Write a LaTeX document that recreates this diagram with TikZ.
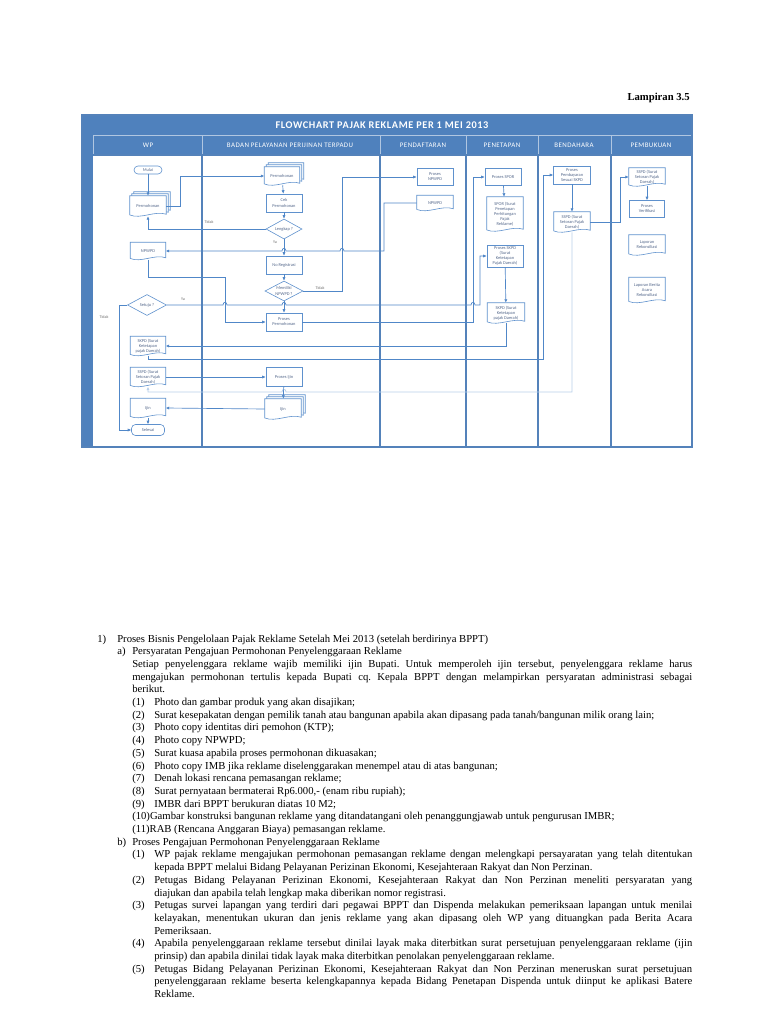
\documentclass[tikz,border=0pt]{standalone}
\usepackage{fontspec}
\setmainfont{Liberation Serif}
\newfontfamily\calf{Carlito}
\newfontfamily\calsp[LetterSpace=6]{Carlito}
\usetikzlibrary{shapes.geometric,arrows.meta,calc}
\pgfdeclarelayer{lanes}
\pgfdeclarelayer{shapesbg}
\pgfsetlayers{lanes,shapesbg,main}
\frenchspacing
\definecolor{hdr}{RGB}{79,129,189}
\definecolor{laneln}{RGB}{84,130,186}
\definecolor{bx}{RGB}{95,145,205}
\definecolor{cn}{RGB}{80,135,200}
\definecolor{ftxt}{RGB}{85,105,140}
\definecolor{lite}{RGB}{185,208,235}
\newcommand\docshape[3]{%
 \draw[shp] ($(#1.north west)+(#2,#3)$) -- ($(#1.north east)+(#2,#3)$)
 -- ($(#1.south east)+(#2,#3+1.5pt)$)
 .. controls ($(#1.south west)!0.7!(#1.south east)+(#2,#3+4.5pt)$)
 and ($(#1.south west)!0.3!(#1.south east)+(#2,#3-2.5pt)$)
 .. ($(#1.south west)+(#2,#3+1pt)$) -- cycle;}
\newcommand\docout[1]{\begin{pgfonlayer}{shapesbg}\docshape{#1}{0pt}{0pt}\end{pgfonlayer}}
\newcommand\multidocout[1]{\begin{pgfonlayer}{shapesbg}\docshape{#1}{3pt}{3pt}\docshape{#1}{1.5pt}{1.5pt}\docshape{#1}{0pt}{0pt}\end{pgfonlayer}}
\tikzset{
 shp/.style={draw=bx, line width=0.45pt, fill=white},
 fc/.style={font=\calf\fontsize{3.3}{3.8}\selectfont, text=ftxt, align=center, inner sep=0.5pt},
 proc/.style 2 args={fc, draw=bx, line width=0.45pt, fill=white, rectangle, minimum width=#1*0.75pt, minimum height=#2*0.75pt},
 docn/.style 2 args={fc, rectangle, minimum width=#1*0.75pt, minimum height=#2*0.75pt},
 dia/.style 2 args={fc, draw=bx, line width=0.45pt, fill=white, diamond, aspect=2, inner sep=0pt, minimum width=#1*0.75pt, minimum height=#2*0.75pt},
 term/.style 2 args={fc, draw=bx, line width=0.45pt, fill=white, rectangle, rounded corners=3pt, minimum width=#1*0.75pt, minimum height=#2*0.75pt},
 arr/.style={draw=cn, line width=0.5pt, -{Latex[length=2.6pt,width=2.4pt]}},
 larr/.style={draw=lite, line width=0.6pt, -{Latex[length=2.6pt,width=2.4pt]}},
 lbl/.style={font=\calf\fontsize{3.1}{3.3}\selectfont, text=black!55, inner sep=0},
 lane/.style={draw=laneln, line width=0.8pt},
 hd/.style={font=\calsp\fontsize{5.2}{5.5}\selectfont, text=white, inner sep=0},
 bl/.style={anchor=base west, inner sep=0, font=\fontsize{8}{9.5}\selectfont},
}
\begin{document}
\begin{tikzpicture}[x=0.75pt,y=-0.75pt]
\useasboundingbox (0,0) rectangle (768,1024);
% ---------- swimlane frame ----------
\begin{pgfonlayer}{lanes}
\fill[white] (0,0) rectangle (768,1024);
\fill[hdr] (82,115) rectangle (692,155);
\fill[hdr] (82,155) rectangle (93,447);
\draw[white!55!hdr, line width=0.4pt] (93,135) -- (692,135);
\foreach \x in {93,202,380,466,538,611}{\draw[white!55!hdr, line width=0.4pt] (\x,135) -- (\x,155);}
\foreach \x in {202,380,466,538,611}{\draw[lane] (\x,155) -- (\x,447);}
\draw[lane] (93,155) -- (692,155);
\draw[lane] (82,115) rectangle (692,447);
\end{pgfonlayer}
\node[font=\calsp\bfseries\fontsize{7.7}{8}\selectfont, text=white, inner sep=0] (title) at (382,125) {FLOWCHART PAJAK REKLAME PER 1 MEI 2013};
\node[hd] (hWP) at (148,145) {WP};
\node[hd] (hBP) at (290,145) {BADAN PELAYANAN PERIJINAN TERPADU};
\node[hd] (hPD) at (423,145) {PENDAFTARAN};
\node[hd] (hPT) at (502,145) {PENETAPAN};
\node[hd] (hBD) at (574,145) {BENDAHARA};
\node[hd] (hPB) at (651,145) {PEMBUKUAN};
% ---------- WP lane ----------
\node[term={28}{8}] (mulai) at (148,170) {Mulai};
\node[docn={36}{20}] (wpPerm) at (148,206) {Permohonan}; \multidocout{wpPerm}
\node[docn={35}{17}] (wpNpwpd) at (148,251) {NPWPD}; \docout{wpNpwpd}
\node[dia={39}{21}] (setuju) at (147,305) {Setuju ?};
\node[docn={35}{19}] (wpSkpd) at (148,346) {SKPD (Surat\\Ketetapan\\pajak Daerah)}; \docout{wpSkpd}
\node[docn={35}{19}] (wpSspd) at (148,377) {SSPD (Surat\\Setoran Pajak\\Daerah)}; \docout{wpSspd}
\node[docn={35}{19}] (wpIjin) at (148,408) {Ijin}; \docout{wpIjin}
\node[term={33}{11}] (selesai) at (148,430) {Selesai};
% ---------- BPPT lane ----------
\node[docn={35}{18}] (bpPerm) at (282,176) {Permohonan}; \multidocout{bpPerm}
\node[proc={36}{18}] (cek) at (284,203) {Cek\\Permohonan};
\node[dia={36}{20}] (lengkap) at (284,229) {Lengkap ?};
\node[proc={36}{18}] (noreg) at (284,265) {No Registrasi};
\node[dia={38}{20}] (memiliki) at (284,291) {Memiliki\\NPWPD ?};
\node[proc={36}{18}] (prosPerm) at (284,322) {Proses\\Permohonan};
\node[proc={36}{19}] (prosIjin) at (284,377) {Proses Ijin};
\node[docn={36}{20}] (bpIjin) at (283,409) {Ijin}; \multidocout{bpIjin}
% ---------- PENDAFTARAN ----------
\node[proc={36}{17}] (prosNpwpd) at (435,177) {Proses\\NPWPD};
\node[docn={36}{15}] (npwpd) at (435,203) {NPWPD}; \docout{npwpd}
% ---------- PENETAPAN ----------
\node[proc={36}{17}] (prosSpor) at (503,177) {Proses SPOR};
\node[docn={36}{34}] (spor) at (505,214) {SPOR (Surat\\Penetapan\\Perhitungan\\Pajak\\Reklame)}; \docout{spor}
\node[proc={36}{22}] (prosSkpd) at (505,256) {Proses SKPD\\(Surat\\Ketetapan\\Pajak Daerah)};
\node[docn={37}{20}] (skpd) at (506,313) {SKPD (Surat\\Ketetapan\\pajak Daerah)}; \docout{skpd}
% ---------- BENDAHARA ----------
\node[proc={37}{18}] (prosBayar) at (572,175) {Proses\\Pembayaran\\Sesuai SKPD};
\node[docn={36}{20}] (bdSspd) at (572,222) {SSPD (Surat\\Setoran Pajak\\Daerah)}; \docout{bdSspd}
% ---------- PEMBUKUAN ----------
\node[docn={36}{18}] (pbSspd) at (647,177) {SSPD (Surat\\Setoran Pajak\\Daerah)}; \docout{pbSspd}
\node[proc={35}{17}] (verif) at (647,209) {Proses\\Verifikasi};
\node[docn={36}{20}] (lapRek) at (647,245) {Laporan\\Rekonsiliasi}; \docout{lapRek}
\node[docn={36}{25}] (lapBA) at (647,290) {Laporan Berita\\Acara\\Rekonsiliasi}; \docout{lapBA}
% ---------- connectors ----------
\draw[arr] (mulai) -- (wpPerm);
\draw[arr] (wpPerm.east) -- (180,206) |- (bpPerm.west);
\draw[arr] (bpPerm) -- (cek);
\draw[arr] (cek) -- (lengkap);
\draw[arr] (lengkap.west) -| (wpPerm.south);
\draw[arr] (lengkap) -- (noreg);
\draw[arr] (npwpd.west) -- (384,203) -- (384,251) -- (344,251) .. controls (344,247.5) and (340,247.5) .. (340,251) -- (286,251) .. controls (286,247.5) and (282,247.5) .. (282,251) -- (wpNpwpd.east);
\draw[arr] (noreg) -- (memiliki);
\draw[arr] (memiliki.east) -- (342,291) |- (prosNpwpd.west);
\draw[arr] (memiliki) -- (prosPerm);
\draw[arr] (setuju.east) -- (223,305) .. controls (223,301.5) and (227,301.5) .. (227,305) -- (282,305) .. controls (282,301.5) and (286,301.5) .. (286,305) -- (471,305) .. controls (471,301.5) and (475,301.5) .. (475,305) -- (480,305) |- (prosSkpd.west);
\draw[arr] (wpNpwpd.south) -- (148,277) -- (225,277) |- (prosPerm.west);
\draw[arr] (prosPerm.east) -- (473,322) |- (prosSpor.west);
\draw[arr] (prosSpor) -- (spor);
\draw[arr] (prosSkpd) -- (skpd);
\draw[arr] (skpd.south) |- (wpSkpd.east);
\draw[arr] (wpSkpd.south) |- (543,359) |- (prosBayar.west);
\draw[arr] (prosBayar) -- (bdSspd);
\draw[arr] (bdSspd.east) -- (620,222) |- (pbSspd.west);
\draw[arr] (pbSspd) -- (verif);
\draw[larr] (bdSspd.south) -- (572,392) -- (286,392) .. controls (286,388.5) and (282,388.5) .. (282,392) -| (wpSspd.south);
\draw[arr] (wpSspd.east) -- (prosIjin.west);
\draw[arr] (prosIjin) -- (bpIjin);
\draw[arr] (bpIjin.west) -- (wpIjin.east);
\draw[arr] (wpIjin) -- (selesai);
\draw[arr] (setuju.west) -- (119,305) |- (selesai.west);
% labels
\node[lbl] (t1) at (209,222) {Tidak};
\node[lbl] (y1) at (275,242) {Ya};
\node[lbl] (t2) at (320,288) {Tidak};
\node[lbl] (y2) at (183,299) {Ya};
\node[lbl] (t3) at (104,317) {Tidak};
% ---------- page text ----------
\node[anchor=base east, inner sep=0, font=\bfseries\fontsize{8}{9}\selectfont] (lamp) at (690,100) {Lampiran 3.5};
\node[bl] (n0) at (97,642) {1)};
\node[bl] (l0) at (117,642) {Proses Bisnis Pengelolaan Pajak Reklame Setelah Mei 2013 (setelah berdirinya BPPT)};
\node[bl] (n1) at (117,654.7) {a)};
\node[bl] (l1) at (132,654.7) {Persyaratan Pengajuan Permohonan Penyelenggaraan Reklame};
\node[bl] (l2) at (132,667.4) {\makebox[420pt][s]{Setiap penyelenggara reklame wajib memiliki ijin Bupati. Untuk memperoleh ijin tersebut, penyelenggara reklame harus}};
\node[bl] (l3) at (132,680.1) {\makebox[420pt][s]{mengajukan permohonan tertulis kepada Bupati cq. Kepala BPPT dengan melampirkan persyaratan administrasi sebagai}};
\node[bl] (l4) at (132,692.8) {berikut.};
\node[bl] (n5) at (132,705.5) {(1)};
\node[bl] (l5) at (154,705.5) {Photo dan gambar produk yang akan disajikan;};
\node[bl] (n6) at (132,718.2) {(2)};
\node[bl] (l6) at (154,718.2) {Surat kesepakatan dengan pemilik tanah atau bangunan apabila akan dipasang pada tanah/bangunan milik orang lain;};
\node[bl] (n7) at (132,730.9) {(3)};
\node[bl] (l7) at (154,730.9) {Photo copy identitas diri pemohon (KTP);};
\node[bl] (n8) at (132,743.6) {(4)};
\node[bl] (l8) at (154,743.6) {Photo copy NPWPD;};
\node[bl] (n9) at (132,756.3) {(5)};
\node[bl] (l9) at (154,756.3) {Surat kuasa apabila proses permohonan dikuasakan;};
\node[bl] (n10) at (132,769) {(6)};
\node[bl] (l10) at (154,769) {Photo copy IMB jika reklame diselenggarakan menempel atau di atas bangunan;};
\node[bl] (n11) at (132,781.7) {(7)};
\node[bl] (l11) at (154,781.7) {Denah lokasi rencana pemasangan reklame;};
\node[bl] (n12) at (132,794.4) {(8)};
\node[bl] (l12) at (154,794.4) {Surat pernyataan bermaterai Rp6.000,- (enam ribu rupiah);};
\node[bl] (n13) at (132,807.1) {(9)};
\node[bl] (l13) at (154,807.1) {IMBR dari BPPT berukuran diatas 10 M2;};
\node[bl] (l14) at (132,819.8) {(10)Gambar konstruksi bangunan reklame yang ditandatangani oleh penanggungjawab untuk pengurusan IMBR;};
\node[bl] (l15) at (132,832.5) {(11)RAB (Rencana Anggaran Biaya) pemasangan reklame.};
\node[bl] (n16) at (117,845.2) {b)};
\node[bl] (l16) at (132,845.2) {Proses Pengajuan Permohonan Penyelenggaraan Reklame};
\node[bl] (n17) at (132,857.9) {(1)};
\node[bl] (l17) at (154,857.9) {\makebox[403.5pt][s]{WP pajak reklame mengajukan permohonan pemasangan reklame dengan melengkapi persayaratan yang telah ditentukan}};
\node[bl] (l18) at (154,870.6) {kepada BPPT melalui Bidang Pelayanan Perizinan Ekonomi, Kesejahteraan Rakyat dan Non Perzinan.};
\node[bl] (n19) at (132,883.3) {(2)};
\node[bl] (l19) at (154,883.3) {\makebox[403.5pt][s]{Petugas Bidang Pelayanan Perizinan Ekonomi, Kesejahteraan Rakyat dan Non Perzinan meneliti persyaratan yang}};
\node[bl] (l20) at (154,896) {diajukan dan apabila telah lengkap maka diberikan nomor registrasi.};
\node[bl] (n21) at (132,908.7) {(3)};
\node[bl] (l21) at (154,908.7) {\makebox[403.5pt][s]{Petugas survei lapangan yang terdiri dari pegawai BPPT dan Dispenda melakukan pemeriksaan lapangan untuk menilai}};
\node[bl] (l22) at (154,921.4) {\makebox[403.5pt][s]{kelayakan, menentukan ukuran dan jenis reklame yang akan dipasang oleh WP yang dituangkan pada Berita Acara}};
\node[bl] (l23) at (154,934.1) {Pemeriksaan.};
\node[bl] (n24) at (132,946.8) {(4)};
\node[bl] (l24) at (154,946.8) {\makebox[403.5pt][s]{Apabila penyelenggaraan reklame tersebut dinilai layak maka diterbitkan surat persetujuan penyelenggaraan reklame (ijin}};
\node[bl] (l25) at (154,959.5) {prinsip) dan apabila dinilai tidak layak maka diterbitkan penolakan penyelenggaraan reklame.};
\node[bl] (n26) at (132,972.2) {(5)};
\node[bl] (l26) at (154,972.2) {\makebox[403.5pt][s]{Petugas Bidang Pelayanan Perizinan Ekonomi, Kesejahteraan Rakyat dan Non Perzinan meneruskan surat persetujuan}};
\node[bl] (l27) at (154,984.9) {\makebox[403.5pt][s]{penyelenggaraan reklame beserta kelengkapannya kepada Bidang Penetapan Dispenda untuk diinput ke aplikasi Batere}};
\node[bl] (l28) at (154,997.6) {Reklame.};
\end{tikzpicture}
\end{document}
